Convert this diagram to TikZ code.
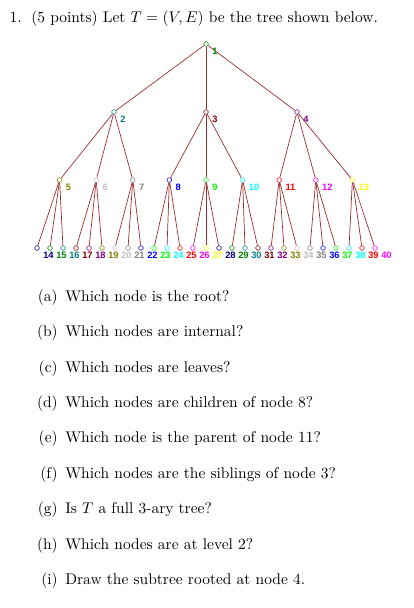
\documentclass[tikz,border=0pt]{standalone}
\usepackage{fontspec}
\newfontfamily\lblfont{Liberation Sans}
\definecolor{c0}{RGB}{0,0,128}
\definecolor{c1}{RGB}{0,128,0}
\definecolor{c2}{RGB}{0,128,128}
\definecolor{c3}{RGB}{128,0,0}
\definecolor{c4}{RGB}{128,0,128}
\definecolor{c5}{RGB}{128,128,0}
\definecolor{c6}{RGB}{192,192,192}
\definecolor{c7}{RGB}{128,128,128}
\definecolor{c8}{RGB}{0,0,255}
\definecolor{c9}{RGB}{0,255,0}
\definecolor{c10}{RGB}{0,255,255}
\definecolor{c11}{RGB}{255,0,0}
\definecolor{c12}{RGB}{255,0,255}
\definecolor{c13}{RGB}{255,255,0}
\definecolor{edgecol}{RGB}{155,45,45}
\tikzset{
  vtx/.style={circle, draw=#1, fill=white, minimum size=3pt, inner sep=0pt, line width=0.35pt},
  lbl/.style={anchor=west, inner sep=0pt, font=\lblfont\bfseries\fontsize{6}{6}\selectfont},
  edge/.style={draw=edgecol, line width=0.45pt},
  txt/.style={inner sep=0pt}
}
\begin{document}
\begin{tikzpicture}[x=0.645pt,y=-0.645pt]
\useasboundingbox (0,0) rectangle (414,608);
% root
\node[vtx=c1] (v1) at (206,44) {};
% level 1
\foreach \k/\xx in {2/114,3/206,4/297} {
  \node[vtx=c\k] (v\k) at (\xx,112) {};
}
% level 2
\foreach \k in {5,...,13} {
  \pgfmathsetmacro\xx{59.6+36.6*(\k-9)+146.4}
  \node[vtx=c\k] (v\k) at (\xx,180) {};
}
% leaves
\foreach \k in {14,...,40} {
  \pgfmathtruncatemacro\c{mod(\k,14)}
  \pgfmathsetmacro\xx{37+13*(\k-14)}
  \node[vtx=c\c] (v\k) at (\xx,248) {};
}
% edges
\foreach \k in {2,3,4} { \draw[edge] (v1) -- (v\k); }
\foreach \k in {5,...,13} {
  \pgfmathtruncatemacro\p{int((\k-5)/3)+2}
  \draw[edge] (v\p) -- (v\k);
}
\foreach \k in {14,...,40} {
  \pgfmathtruncatemacro\p{int((\k-14)/3)+5}
  \draw[edge] (v\p) -- (v\k);
}
% labels
\foreach \k in {1,...,40} {
  \pgfmathtruncatemacro\c{mod(\k,14)}
  \node[lbl, text=c\c] (l\k) at ([shift={(6,7)}]v\k.center) {\k};
}
% text
\node[txt, anchor=base east] (n1) at (22,22) {1.};
\node[txt, anchor=base west] (title) at (31,22) {(5 points) Let $T=(V,E)$ be the tree shown below.};
\foreach \lab/\yy/\q in {
  a/301/{Which node is the root?},
  b/336.5/{Which nodes are internal?},
  c/372/{Which nodes are leaves?},
  d/407/{Which nodes are children of node 8?},
  e/442.5/{Which node is the parent of node 11?},
  f/478/{Which nodes are the siblings of node 3?},
  g/513.5/{Is $T$ a full 3-ary tree?},
  h/549/{Which nodes are at level 2?},
  i/584.5/{Draw the subtree rooted at node 4.}} {
  \node[txt, anchor=base east] (q\lab) at (58,\yy) {(\lab)};
  \node[txt, anchor=base west] (t\lab) at (65,\yy) {\q};
}
\end{tikzpicture}
\end{document}
